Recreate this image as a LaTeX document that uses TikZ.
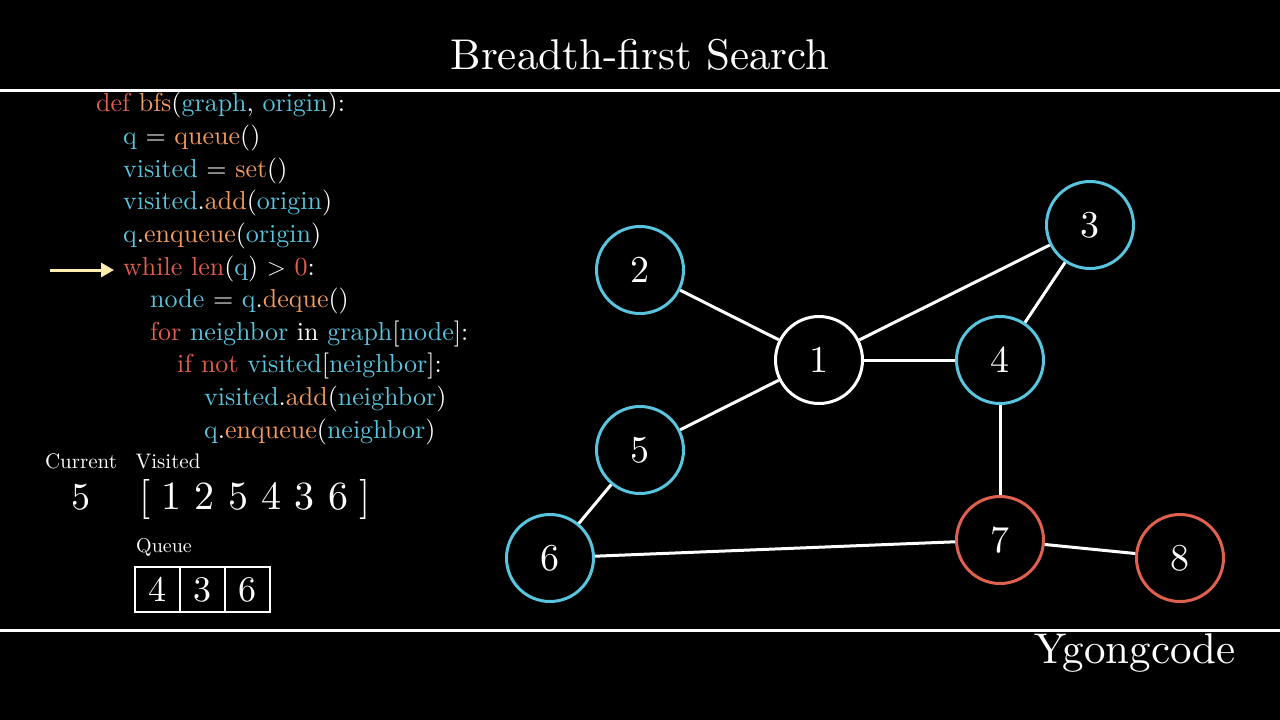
\documentclass[tikz,border=0pt]{standalone}
\usepackage{fontspec}
\setmainfont{lmroman10-regular.otf}
\usetikzlibrary{arrows.meta}
\definecolor{cb}{HTML}{58C4DD}
\definecolor{cr}{HTML}{E0604F}
\definecolor{co}{HTML}{F39B5B}
\definecolor{cy}{HTML}{FFEDB0}
\newcommand{\kw}[1]{\textcolor{cr}{#1}}
\newcommand{\fn}[1]{\textcolor{co}{#1}}
\newcommand{\vr}[1]{\textcolor{cb}{#1}}
\begin{document}
\begin{tikzpicture}[x=1pt,y=-1pt,
  gn/.style={circle,draw,line width=3pt,minimum size=87pt,inner sep=0pt,text=white,font=\fontsize{38}{40}\selectfont},
  edge/.style={white,line width=3pt},
  code/.style={anchor=west,text=white,inner sep=0pt,font=\fontsize{26}{28}\selectfont},
  cell/.style={draw=white,line width=2.5pt,minimum width=45pt,minimum height=45pt,inner sep=0pt,text=white,font=\fontsize{36}{36}\selectfont}]
\fill[black] (0,0) rectangle (1280,720);
\useasboundingbox (0,0) rectangle (1280,720);
\draw[white,line width=3pt] (0,90) -- (1280,90);
\draw[white,line width=3pt] (0,630) -- (1280,630);
\node[text=white,font=\fontsize{43}{46}\selectfont] (title) at (640,55) {Breadth-first Search};
\node[text=white,font=\fontsize{43}{46}\selectfont] (sig) at (1135,653) {Ygongcode};
% code
\node[code] (c1) at (96,105) {\kw{def} \fn{bfs}(\vr{graph}, \vr{origin}):};
\node[code] (c2) at (123,138) {\vr{q} = \fn{queue}()};
\node[code] (c3) at (123,171) {\vr{visited} = \fn{set}()};
\node[code] (c4) at (123,203) {\vr{visited}.\fn{add}(\vr{origin})};
\node[code] (c5) at (123,236) {\vr{q}.\fn{enqueue}(\vr{origin})};
\node[code] (c6) at (123,269) {\kw{while} \kw{len}(\vr{q}) $>$ \kw{0}:};
\node[code] (c7) at (150,301) {\vr{node} = \vr{q}.\fn{deque}()};
\node[code] (c8) at (150,334) {\kw{for} \vr{neighbor} in \vr{graph}[\vr{node}]:};
\node[code] (c9) at (177,366) {\kw{if not} \vr{visited}[\vr{neighbor}]:};
\node[code] (c10) at (204,399) {\vr{visited}.\fn{add}(\vr{neighbor})};
\node[code] (c11) at (204,432) {\vr{q}.\fn{enqueue}(\vr{neighbor})};
\coordinate (as) at (50,270);
\draw[cy,line width=3pt,-{Triangle[length=13pt,width=14pt]}] (as) -- (114,270);
% state
\node[text=white,font=\fontsize{21}{22}\selectfont] (cur) at (81,461) {Current};
\node[text=white,font=\fontsize{21}{22}\selectfont] (vis) at (168,461) {Visited};
\node[text=white,font=\fontsize{38}{40}\selectfont] (cv) at (81,497) {5};
\node[text=white,font=\fontsize{40}{42}\selectfont] (vl) at (255,499) {[\;1 2 5 4 3 6\;]};
\node[text=white,font=\fontsize{20}{20}\selectfont] (ql) at (164,547) {Queue};
\node[cell] (q1) at (157.5,589.5) {4};
\node[cell] (q2) at (202.5,589.5) {3};
\node[cell] (q3) at (247.5,589.5) {6};
% graph
\node[gn,draw=white] (n1) at (819,360) {1};
\node[gn,draw=cb] (n2) at (640,270) {2};
\node[gn,draw=cb] (n3) at (1090,225) {3};
\node[gn,draw=cb] (n4) at (1000,360) {4};
\node[gn,draw=cb] (n5) at (640,450) {5};
\node[gn,draw=cb] (n6) at (550,558) {6};
\node[gn,draw=cr] (n7) at (1000,540) {7};
\node[gn,draw=cr] (n8) at (1180,558) {8};
\draw[edge] (n2) -- (n1);
\draw[edge] (n1) -- (n3);
\draw[edge] (n1) -- (n4);
\draw[edge] (n3) -- (n4);
\draw[edge] (n1) -- (n5);
\draw[edge] (n5) -- (n6);
\draw[edge] (n6) -- (n7);
\draw[edge] (n4) -- (n7);
\draw[edge] (n7) -- (n8);
\end{tikzpicture}
\end{document}
